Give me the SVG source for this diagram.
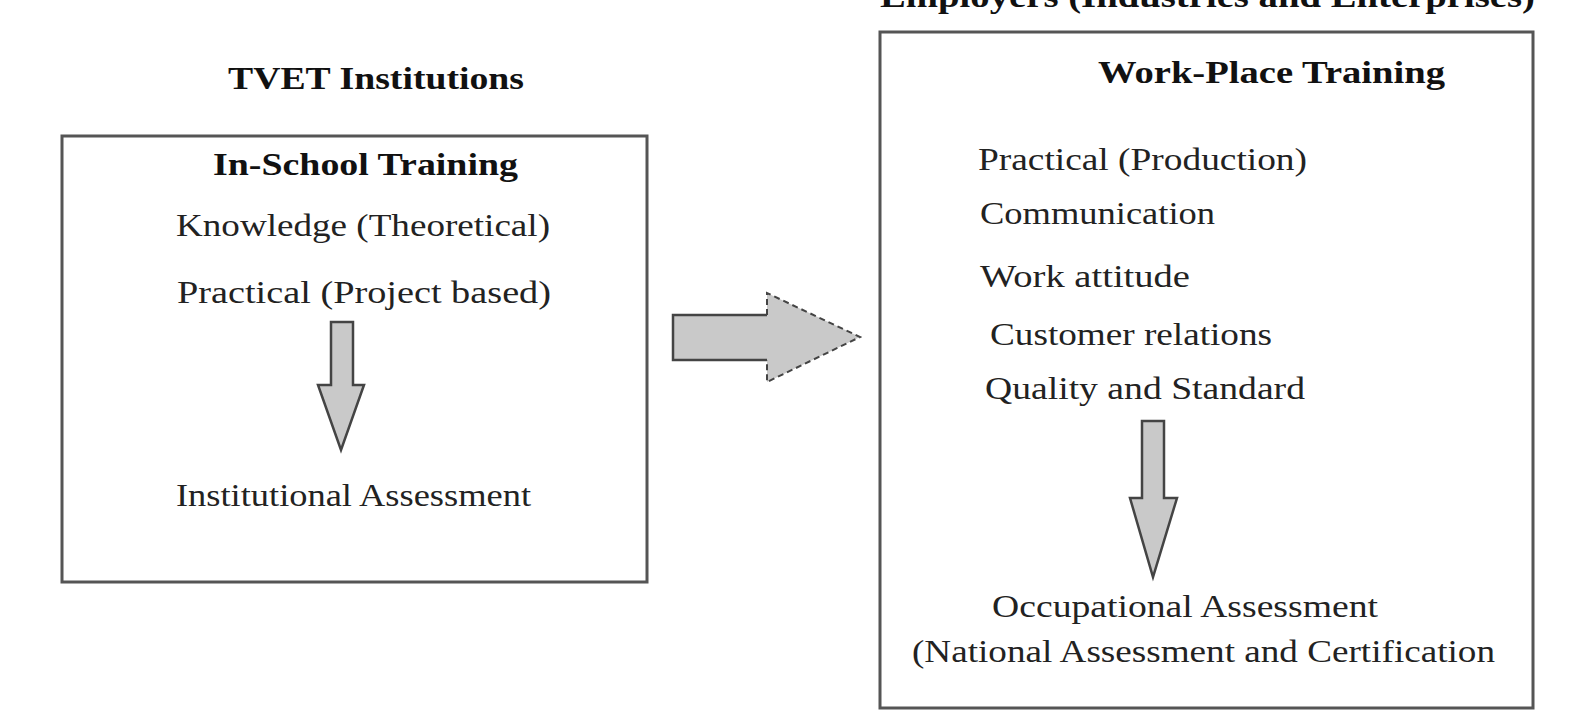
<svg xmlns="http://www.w3.org/2000/svg" width="1569" height="712" viewBox="0 0 1569 712">
<style>
.t{font-family:"Liberation Serif","Times New Roman",serif;font-size:31px;fill:#222}
.b{font-weight:bold;fill:#111}
.box{fill:#fff;stroke:#555;stroke-width:3}
.arr{fill:#c9c9c9;stroke:#444;stroke-width:2.5;stroke-linejoin:miter}
</style>
<rect width="1569" height="712" fill="#fff"/>
<g id="employers-title">
<text class="t b" x="880" y="7" textLength="655" lengthAdjust="spacingAndGlyphs">Employers (Industries and Enterprises)</text>
</g>
<g id="tvet-title">
<text class="t b" x="228" y="89" textLength="296" lengthAdjust="spacingAndGlyphs">TVET Institutions</text>
</g>
<g id="in-school">
<rect class="box" x="62" y="136" width="585" height="446"/>
<text class="t b" x="213" y="175" textLength="305" lengthAdjust="spacingAndGlyphs">In-School Training</text>
<text class="t" x="176" y="236" textLength="374" lengthAdjust="spacingAndGlyphs">Knowledge (Theoretical)</text>
<text class="t" x="177" y="303" textLength="374" lengthAdjust="spacingAndGlyphs">Practical (Project based)</text>
<text class="t" x="176" y="506" textLength="355" lengthAdjust="spacingAndGlyphs">Institutional Assessment</text>
</g>
<g id="work-place">
<rect class="box" x="880" y="32" width="653" height="676"/>
<text class="t b" x="1098" y="83" textLength="347" lengthAdjust="spacingAndGlyphs">Work-Place Training</text>
<text class="t" x="978" y="170" textLength="329" lengthAdjust="spacingAndGlyphs">Practical (Production)</text>
<text class="t" x="980" y="224" textLength="235" lengthAdjust="spacingAndGlyphs">Communication</text>
<text class="t" x="980" y="287" textLength="210" lengthAdjust="spacingAndGlyphs">Work attitude</text>
<text class="t" x="990" y="345" textLength="282" lengthAdjust="spacingAndGlyphs">Customer relations</text>
<text class="t" x="985" y="399" textLength="320" lengthAdjust="spacingAndGlyphs">Quality and Standard</text>
<text class="t" x="992" y="617" textLength="386" lengthAdjust="spacingAndGlyphs">Occupational Assessment</text>
<text class="t" x="912" y="662" textLength="583" lengthAdjust="spacingAndGlyphs">(National Assessment and Certification</text>
</g>
<g id="connectors">
<path class="arr" d="M331 322 H353 V385 H364 L341 450 L318 385 H331 Z"/>
<path class="arr" d="M1142 421 H1164 V498 H1177 L1153 577 L1130 498 H1142 Z"/>
<path d="M767 293 L860 337 L767 382 V360 H673 V315 H767 Z" fill="#c9c9c9"/>
<path d="M767 315 H673 V360 H767" fill="none" stroke="#444" stroke-width="2.5"/>
<path d="M767 315 V293 L860 337 L767 382 V360" fill="none" stroke="#444" stroke-width="2" stroke-dasharray="6 4"/>
</g>
</svg>
